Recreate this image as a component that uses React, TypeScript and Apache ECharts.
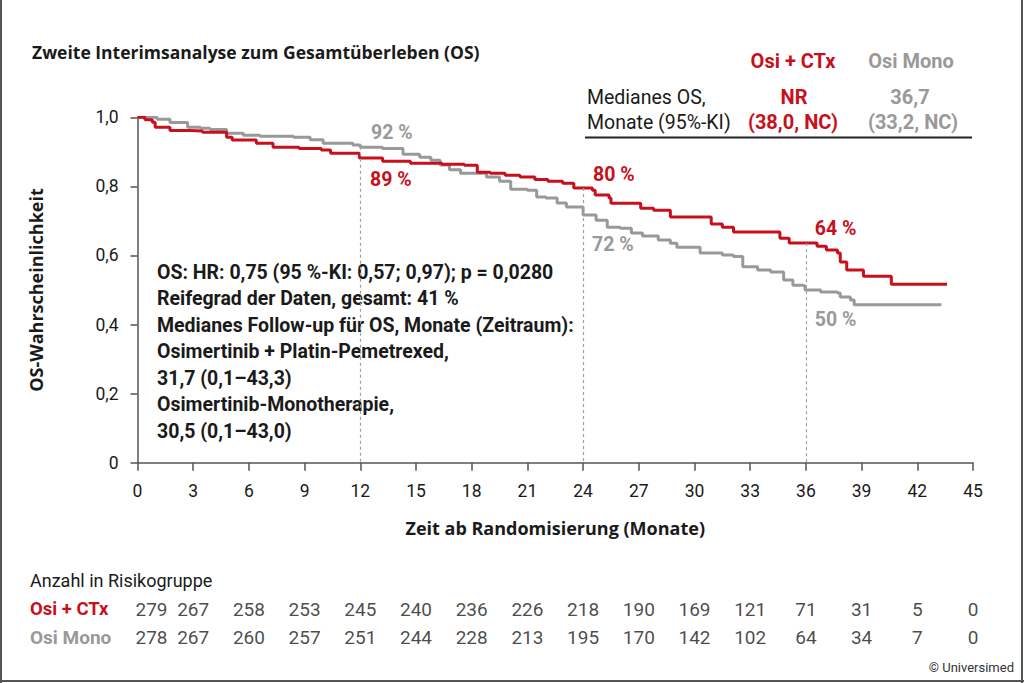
import React, { useEffect, useRef } from "react";
import * as echarts from "echarts";

const RED = "#c8101c";
const GREY = "#999999";
const INK = "#1a1a1a";

// Kaplan-Meier step points (months, survival probability)
const osiCtxMonths = [0, 0.4, 0.8, 0.95, 1.75, 2.8, 3.5, 4.8, 5.1, 6.4, 7.3, 8.7, 9.9, 10.4, 11.95, 13.2, 14.7, 16.4, 17.6, 18.3, 19.0, 19.8, 20.6, 21.4, 22.1, 22.9, 23.5, 24.5, 24.65, 25.4, 25.5, 27.1, 27.8, 28.7, 30.9, 31.5, 32.1, 34.6, 35.1, 36.6, 37.1, 37.7, 37.85, 38.2, 39.1, 40.6, 43.6];
const osiCtxSurv = [1.0, 0.993, 0.986, 0.971, 0.962, 0.96, 0.957, 0.942, 0.934, 0.925, 0.913, 0.91, 0.905, 0.896, 0.882, 0.873, 0.867, 0.864, 0.861, 0.841, 0.838, 0.832, 0.827, 0.82, 0.815, 0.809, 0.795, 0.789, 0.775, 0.766, 0.751, 0.737, 0.731, 0.711, 0.691, 0.682, 0.668, 0.65, 0.636, 0.627, 0.616, 0.607, 0.581, 0.558, 0.54, 0.517, 0.517];

const osiMonoMonths = [0, 1.05, 1.75, 2.7, 3.4, 3.9, 4.8, 5.7, 6.6, 8.4, 9.3, 10.0, 11.6, 12.0, 13.2, 14.3, 15.2, 15.8, 16.3, 16.8, 17.4, 18.8, 19.5, 20.1, 21.0, 21.5, 22.0, 22.6, 23.1, 24.0, 24.7, 25.3, 26.0, 26.6, 27.2, 28.05, 28.7, 29.05, 30.3, 31.5, 32.1, 32.6, 33.4, 34.1, 34.8, 35.3, 35.8, 35.95, 36.8, 37.7, 37.85, 38.4, 38.6, 43.3];
const osiMonoSurv = [1.0, 0.994, 0.985, 0.971, 0.968, 0.965, 0.954, 0.948, 0.945, 0.942, 0.935, 0.925, 0.92, 0.913, 0.91, 0.893, 0.884, 0.876, 0.862, 0.848, 0.838, 0.827, 0.815, 0.792, 0.789, 0.769, 0.766, 0.752, 0.74, 0.717, 0.702, 0.682, 0.679, 0.665, 0.656, 0.645, 0.635, 0.624, 0.607, 0.601, 0.597, 0.567, 0.558, 0.552, 0.529, 0.514, 0.512, 0.5, 0.494, 0.491, 0.48, 0.471, 0.457, 0.457];

// Landmarks
const landmarkMonths = [12, 24, 36];
const landmarkTop = [0.915, 0.795, 0.635];
const landmarkCtxLabels = ["89 %", "80 %", "64 %"];
const landmarkMonoLabels = ["92 %", "72 %", "50 %"];

// Numbers at risk
const riskMonths = [0, 3, 6, 9, 12, 15, 18, 21, 24, 27, 30, 33, 36, 39, 42, 45];
const riskOsiCtx = [279, 267, 258, 253, 245, 240, 236, 226, 218, 190, 169, 121, 71, 31, 5, 0];
const riskOsiMono = [278, 267, 260, 257, 251, 244, 228, 213, 195, 170, 142, 102, 64, 34, 7, 0];
const groupNames = ["Osi + CTx", "Osi Mono"];

const infoLines = [
  "OS: HR: 0,75 (95 %-KI: 0,57; 0,97); p = 0,0280",
  "Reifegrad der Daten, gesamt: 41 %",
  "Medianes Follow-up für OS, Monate (Zeitraum):",
  "Osimertinib + Platin-Pemetrexed,",
  "31,7 (0,1–43,3)",
  "Osimertinib-Monotherapie,",
  "30,5 (0,1–43,0)",
];

const COND = "Roboto, 'Liberation Sans', sans-serif";
const HUM = "'Open Sans', 'Noto Sans', sans-serif";

export default function App() {
  const ref = useRef<HTMLDivElement>(null);
  useEffect(() => {
    if (!ref.current) return;
    const chart = echarts.init(ref.current, undefined, { renderer: "svg" });

    const ctxData = osiCtxMonths.map((m, i) => [m, osiCtxSurv[i]]);
    const monoData = osiMonoMonths.map((m, i) => [m, osiMonoSurv[i]]);

    const pctPos = {
      ctx: [[13.65, 0.821], [25.66, 0.833], [37.6, 0.679]],
      mono: [[13.7, 0.955], [25.6, 0.633], [37.6, 0.416]],
    };

    const axisColor = "#555555";

    const option: any = {
      animation: false,
      grid: [
        { left: 137.5, right: 51, top: 117.3, bottom: 220.3 },
        { left: 137.5, right: 51, top: 595, height: 56 },
      ],
      xAxis: [
        {
          type: "value",
          gridIndex: 0,
          min: 0,
          max: 45,
          interval: 3,
          name: "Zeit ab Randomisierung (Monate)",
          nameLocation: "middle",
          nameGap: 56,
          nameTextStyle: { fontFamily: HUM, fontWeight: "bold", fontSize: 18, color: INK },
          axisLine: { show: true, lineStyle: { color: axisColor, width: 1.5 } },
          axisTick: { show: true, length: 8, lineStyle: { color: axisColor, width: 1.5 } },
          axisLabel: { margin: 19, fontSize: 17.5, color: INK, fontFamily: COND },
          splitLine: { show: false },
        },
        { type: "value", gridIndex: 1, min: 0, max: 45, show: false },
      ],
      yAxis: [
        {
          type: "value",
          gridIndex: 0,
          min: 0,
          max: 1,
          interval: 0.2,
          name: "OS-Wahrscheinlichkeit",
          nameLocation: "middle",
          nameGap: 93,
          nameTextStyle: { fontFamily: HUM, fontWeight: "bold", fontSize: 18, color: INK },
          axisLine: { show: true, lineStyle: { color: axisColor, width: 1.5 } },
          axisTick: { show: true, length: 7, lineStyle: { color: axisColor, width: 1.5 } },
          axisLabel: {
            margin: 19,
            fontSize: 17.5,
            color: INK,
            fontFamily: COND,
            formatter: (v: number) => (v === 0 ? "0" : v.toFixed(1).replace(".", ",")),
          },
          splitLine: { show: false },
        },
        {
          type: "category",
          gridIndex: 1,
          inverse: true,
          data: groupNames,
          axisLine: { show: false },
          axisTick: { show: false },
          axisLabel: {
            align: "left",
            margin: 107.5,
            formatter: (v: string) => (v === groupNames[0] ? "{r|" + v + "}" : "{g|" + v + "}"),
            rich: {
              r: { color: RED, fontWeight: "bold", fontSize: 18.5, fontFamily: COND },
              g: { color: GREY, fontWeight: "bold", fontSize: 19, fontFamily: COND },
            },
          },
        },
      ],
      series: [
        {
          name: "Osi Mono",
          type: "line",
          step: "end",
          xAxisIndex: 0,
          yAxisIndex: 0,
          data: monoData,
          showSymbol: false,
          symbol: "none",
          lineStyle: { color: GREY, width: 3 },
          z: 3,
          markLine: {
            silent: true,
            symbol: "none",
            label: { show: false },
            lineStyle: { color: "#a0a0a0", width: 1.2, type: [3, 3] },
            data: landmarkMonths.map((m, i) => [
              { coord: [m, landmarkTop[i]] },
              { coord: [m, 0] },
            ]),
          },
          markPoint: {
            silent: true,
            symbol: "circle",
            symbolSize: 0,
            label: {
              show: true,
              position: "inside",
              color: GREY,
              fontWeight: "bold",
              fontSize: 19.5,
              fontFamily: COND,
              formatter: (p: any) => p.name,
            },
            data: landmarkMonoLabels.map((l, i) => ({ name: l, coord: pctPos.mono[i] })),
          },
        },
        {
          name: "Osi + CTx",
          type: "line",
          step: "end",
          xAxisIndex: 0,
          yAxisIndex: 0,
          data: ctxData,
          showSymbol: false,
          symbol: "none",
          lineStyle: { color: RED, width: 3 },
          z: 4,
          markPoint: {
            silent: true,
            symbol: "circle",
            symbolSize: 0,
            label: {
              show: true,
              position: "inside",
              color: RED,
              fontWeight: "bold",
              fontSize: 19.5,
              fontFamily: COND,
              formatter: (p: any) => p.name,
            },
            data: landmarkCtxLabels.map((l, i) => ({ name: l, coord: pctPos.ctx[i] })),
          },
        },
        {
          type: "scatter",
          xAxisIndex: 1,
          yAxisIndex: 1,
          symbolSize: 1,
          itemStyle: { color: "rgba(0,0,0,0)" },
          silent: true,
          label: {
            show: true,
            position: "inside",
            color: INK,
            fontSize: 19,
            fontFamily: COND,
            formatter: (p: any) => String(p.value[2]),
          },
          data: [
            ...riskMonths.map((m, i) => ({
              value: [m, groupNames[0], riskOsiCtx[i]],
              label: i === 0 ? { offset: [14, 0] } : undefined,
            })),
            ...riskMonths.map((m, i) => ({
              value: [m, groupNames[1], riskOsiMono[i]],
              label: i === 0 ? { offset: [14, 0] } : undefined,
            })),
          ],
        },
      ],
      graphic: [
        { type: "line", shape: { x1: 1, y1: 0, x2: 1, y2: 683 }, style: { stroke: "#555", lineWidth: 2 } },
        { type: "line", shape: { x1: 1022, y1: 0, x2: 1022, y2: 683 }, style: { stroke: "#555", lineWidth: 2 } },
        { type: "line", shape: { x1: 0, y1: 681, x2: 1024, y2: 681 }, style: { stroke: "#555", lineWidth: 2 } },
        {
          type: "text",
          x: 32,
          y: 52,
          style: {
            text: "Zweite Interimsanalyse zum Gesamtüberleben (OS)",
            fontFamily: HUM,
            fontWeight: "bold",
            fontSize: 17.5,
            fill: INK,
            verticalAlign: "middle",
          },
        },
        { type: "text", x: 793, y: 61, style: { text: groupNames[0], fontFamily: COND, fontWeight: "bold", fontSize: 20, fill: RED, align: "center", verticalAlign: "middle" } },
        { type: "text", x: 911, y: 61, style: { text: groupNames[1], fontFamily: COND, fontWeight: "bold", fontSize: 20, fill: GREY, align: "center", verticalAlign: "middle" } },
        { type: "text", x: 587, y: 97, style: { text: "Medianes OS,", fontFamily: COND, fontSize: 19.5, fill: INK, verticalAlign: "middle" } },
        { type: "text", x: 587, y: 122, style: { text: "Monate (95%-KI)", fontFamily: COND, fontSize: 19.5, fill: INK, verticalAlign: "middle" } },
        { type: "text", x: 794, y: 97, style: { text: "NR", fontFamily: COND, fontWeight: "bold", fontSize: 20, fill: RED, align: "center", verticalAlign: "middle" } },
        { type: "text", x: 793, y: 122, style: { text: "(38,0, NC)", fontFamily: COND, fontWeight: "bold", fontSize: 20, fill: RED, align: "center", verticalAlign: "middle" } },
        { type: "text", x: 910, y: 97, style: { text: "36,7", fontFamily: COND, fontWeight: "bold", fontSize: 20, fill: GREY, align: "center", verticalAlign: "middle" } },
        { type: "text", x: 913, y: 122, style: { text: "(33,2, NC)", fontFamily: COND, fontWeight: "bold", fontSize: 20, fill: GREY, align: "center", verticalAlign: "middle" } },
        { type: "line", shape: { x1: 585, y1: 137.5, x2: 972, y2: 137.5 }, style: { stroke: "#222", lineWidth: 2 } },
        ...infoLines.map((t, i) => ({
          type: "text",
          x: 157,
          y: 272 + i * 26.5,
          style: { text: t, fontFamily: COND, fontWeight: "bold", fontSize: 19.5, fill: INK, verticalAlign: "middle" },
        })),
        { type: "text", x: 30, y: 580, style: { text: "Anzahl in Risikogruppe", fontFamily: COND, fontSize: 18, fill: INK, verticalAlign: "middle" } },
        { type: "text", x: 1014, y: 667, style: { text: "© Universimed", fontFamily: COND, fontSize: 13, fill: "#333", align: "right", verticalAlign: "middle" } },
      ],
    };

    chart.setOption(option);
    return () => chart.dispose();
  }, []);

  return (
    <div
      ref={ref}
      style={{ position: "fixed", left: 0, top: 0, width: 1024, height: 683, background: "#fff" }}
    />
  );
}
